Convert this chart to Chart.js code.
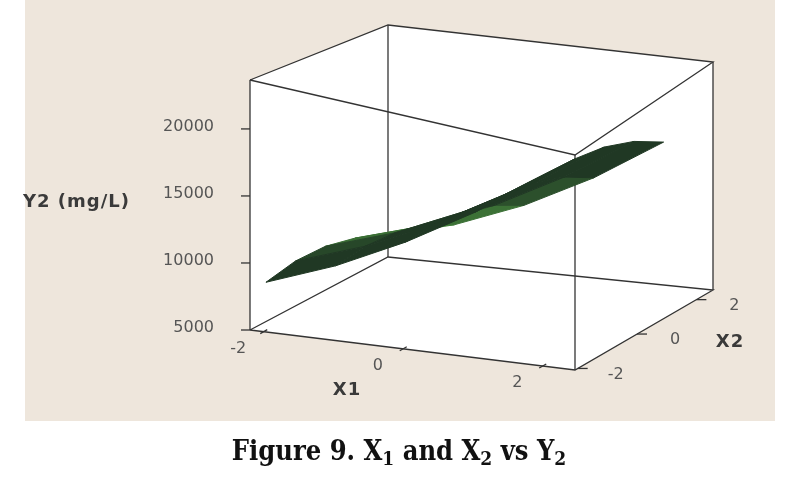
<!DOCTYPE html>
<html><head><meta charset="utf-8">
<script src="https://cdn.jsdelivr.net/npm/chart.js@4/dist/chart.umd.min.js"></script>
<style>html,body{margin:0;padding:0;background:#fff}canvas{display:block}</style>
</head><body>
<canvas id="c" width="797" height="493"></canvas>
<script>
// ---- data ----
const x1Grid = [-2, -1, 0, 1, 2];
const x2Grid = [-2, -1, 0, 1, 2];
// Y2 values: rows = x1Grid, cols = x2Grid
const y2Row0 = [8600, 9080, 9050, 8520, 7500];
const y2Row1 = [10650, 10980, 10820, 10150, 8990];
const y2Row2 = [13400, 13590, 13290, 12480, 11180];
const y2Row3 = [16850, 16900, 16460, 15510, 14060];
const y2Row4 = [21000, 20910, 20330, 19240, 17650];
const y2Values = [y2Row0, y2Row1, y2Row2, y2Row3, y2Row4];
const yTicks = [5000, 10000, 15000, 20000];
const x1Ticks = [-2, 0, 2];
const x2Ticks = [-2, 0, 2];
const x1Range = [-2.19, 2.47], x2Range = [-2.09, 2.56], yRange = [5000, 23650];

// ---- box projection (corner layout of the 3D frame) ----
const B = {p00:[250,330], p10:[575,370], p11:[713,290], p01:[388,257]};
const T = {p00:[250,80], p10:[575,155], p11:[713,62], p01:[388,25]};
function bil(C,u,v){const r=[0,0];for(let i=0;i<2;i++){r[i]=C.p00[i]*(1-u)*(1-v)+C.p10[i]*u*(1-v)+C.p11[i]*u*v+C.p01[i]*(1-u)*v;}return r;}
function proj(x1,x2,y){
  const u=(x1-x1Range[0])/(x1Range[1]-x1Range[0]);
  const v=(x2-x2Range[0])/(x2Range[1]-x2Range[0]);
  const w=(y-yRange[0])/(yRange[1]-yRange[0]);
  const b=bil(B,u,v), t=bil(T,u,v);
  return {x:b[0]+(t[0]-b[0])*w, y:b[1]+(t[1]-b[1])*w};
}
const datasets=[];
const [a0,a1]=x1Range,[b0,b1]=x2Range,[c0,c1]=yRange;
// white box hull
datasets.push({data:[proj(a0,b0,c0),proj(a1,b0,c0),proj(a1,b1,c0),proj(a1,b1,c1),proj(a0,b1,c1),proj(a0,b0,c1),proj(a0,b0,c0)],
  showLine:true,borderWidth:0,borderColor:'#fff',backgroundColor:'#fff',pointRadius:0,fill:'shape',order:2000});
function line(pts){datasets.push({data:pts,showLine:true,borderColor:'#333',borderWidth:1.3,pointRadius:0,fill:false,order:1000});}
line([proj(a0,b0,c0),proj(a0,b0,c1)]);
line([proj(a1,b0,c0),proj(a1,b0,c1)]);
line([proj(a1,b1,c0),proj(a1,b1,c1)]);
line([proj(a0,b1,c0),proj(a0,b1,c1)]);
line([proj(a0,b0,c1),proj(a1,b0,c1),proj(a1,b1,c1),proj(a0,b1,c1),proj(a0,b0,c1)]);
line([proj(a0,b0,c0),proj(a1,b0,c0),proj(a1,b1,c0),proj(a0,b1,c0),proj(a0,b0,c0)]);
// ticks
yTicks.forEach(t=>{const p=proj(a0,b0,t);line([{x:p.x-9,y:p.y},p]);});
x1Ticks.forEach(t=>{const p=proj(t,b0,c0);line([{x:p.x-3,y:p.y+2},{x:p.x+4,y:p.y-2}]);});
x2Ticks.forEach(t=>{const p=proj(a1,t,c0);line([p,{x:p.x+10,y:p.y}]);});

// surface quads
for(let i=0;i<x1Grid.length-1;i++){for(let j=0;j<x2Grid.length-1;j++){
  const q=[[i,j],[i+1,j],[i+1,j+1],[i,j+1]];
  const pts=q.map(([a,b])=>proj(x1Grid[a],x2Grid[b],y2Values[a][b]));
  pts.push(pts[0]);
  const dy1=((y2Values[i+1][j]+y2Values[i+1][j+1])-(y2Values[i][j]+y2Values[i][j+1]))/2/18650*4.66;
  const dy2=((y2Values[i][j+1]+y2Values[i+1][j+1])-(y2Values[i][j]+y2Values[i+1][j]))/2/18650*4.65;
  let k=Math.min(1,Math.max(0,(0.5-dy1-dy2)/0.35));
  const r=Math.round(32+40*k), g=Math.round(56+82*k), bl=Math.round(36+26*k);
  const col=`rgb(${r},${g},${bl})`;
  const u=(i+0.5)/4, v=(j+0.5)/4;
  datasets.push({data:pts,showLine:true,borderColor:col,backgroundColor:col,borderWidth:1,pointRadius:0,fill:'shape',order:Math.round((2-(u+1-v))*100)});
}}

const deco={id:'deco',
 beforeDraw(c){const x=c.ctx;x.save();x.fillStyle='#fff';x.fillRect(0,0,797,493);x.fillStyle='#eee6dc';x.fillRect(25,0,750,421);x.restore();},
 afterDraw(c){const x=c.ctx;x.save();
  x.fillStyle='#555';x.font='16px "DejaVu Sans"';x.textAlign='right';x.textBaseline='middle';
  yTicks.forEach(t=>{const p=proj(a0,b0,t);x.fillText(String(t),214,p.y-2);});
  x.textAlign='center';
  x1Ticks.forEach(t=>{const p=proj(t,b0,c0);x.fillText(String(t),p.x-25,p.y+17);});
  x2Ticks.forEach(t=>{const p=proj(a1,t,c0);x.fillText(String(t),p.x+38,p.y+6);});
  x.fillStyle='#3a3a3a';x.font='bold 18px "DejaVu Sans"';
  x.letterSpacing='1px';
  x.textAlign='left';
  x.fillText('Y2 (mg/L)',23,202);
  x.textAlign='center';x.fillText('X1',347,390);x.fillText('X2',730,342);
  x.letterSpacing='0px';
  // caption
  x.fillStyle='#111';x.textBaseline='alphabetic';x.textAlign='left';
  const big='bold 27px "DejaVu Serif Condensed"',sm='bold 19px "DejaVu Serif Condensed"';
  const parts=[['Figure 9. X',big,0],['1',sm,5],[' and X',big,0],['2',sm,5],[' vs Y',big,0],['2',sm,5]];
  let w=0;parts.forEach(p=>{x.font=p[1];w+=x.measureText(p[0]).width;});
  let cx=399-w/2;parts.forEach(p=>{x.font=p[1];x.fillText(p[0],cx,460+p[2]);cx+=x.measureText(p[0]).width;});
  x.restore();}};

new Chart(document.getElementById('c'),{type:'scatter',data:{datasets},
 options:{responsive:false,devicePixelRatio:1,animation:false,events:[],
  layout:{padding:0},plugins:{legend:{display:false},tooltip:{enabled:false}},
  scales:{x:{type:'linear',min:0,max:797,display:false},y:{type:'linear',min:0,max:493,reverse:true,display:false}}},
 plugins:[deco]});
</script>
</body></html>
